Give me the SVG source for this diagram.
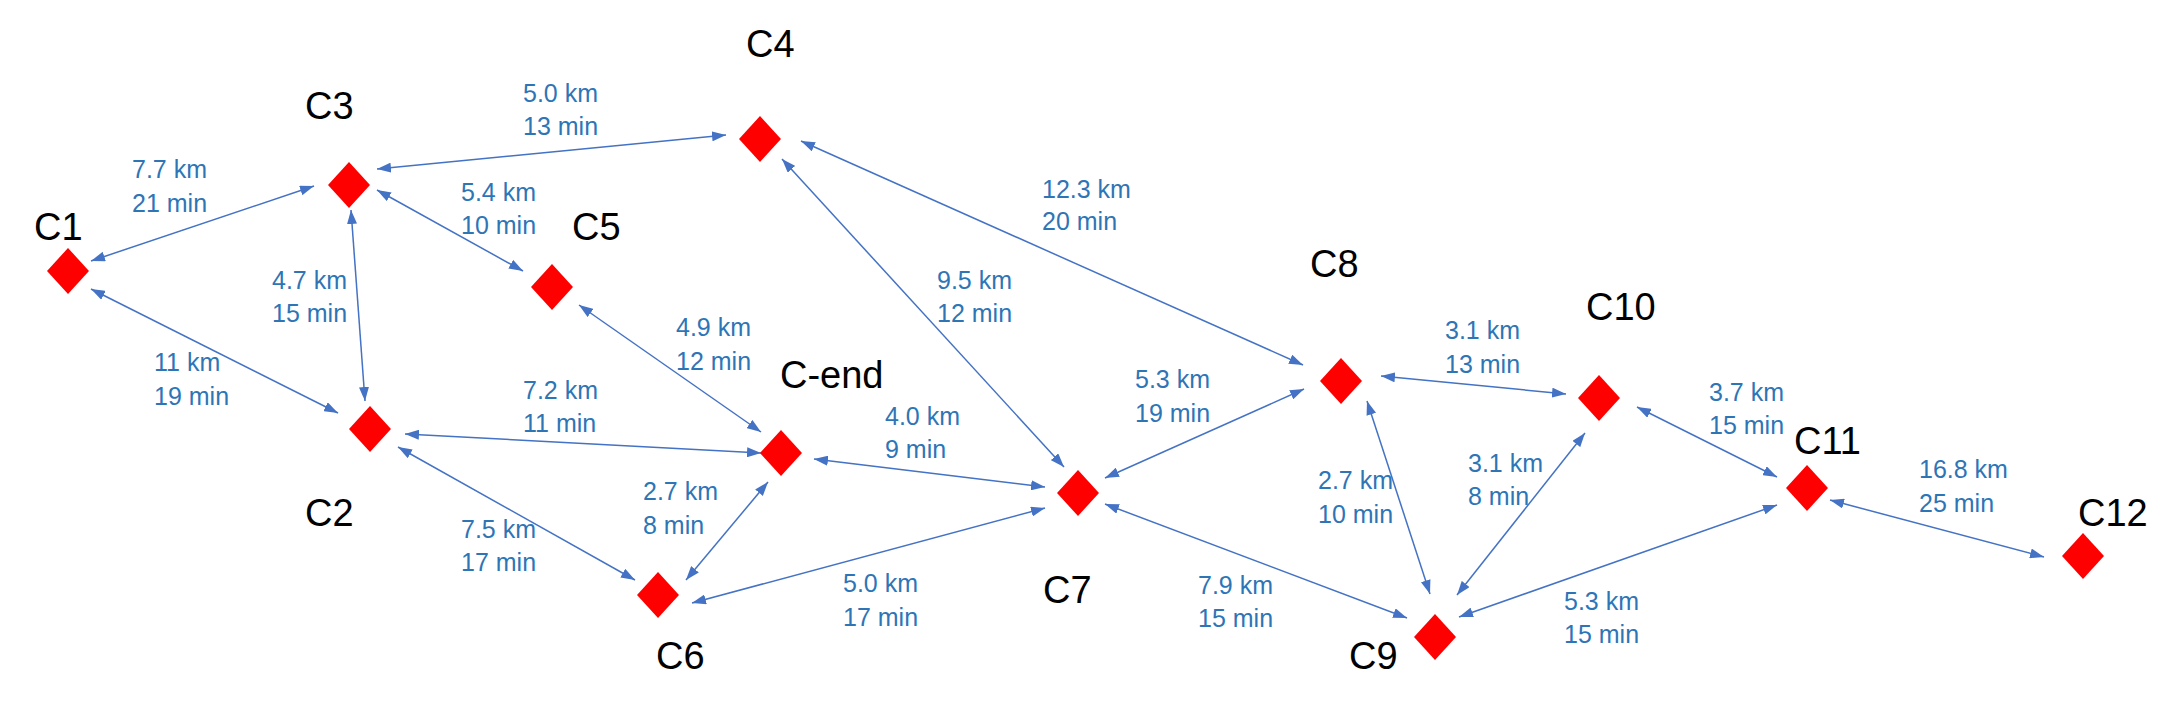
<svg xmlns="http://www.w3.org/2000/svg" width="2183" height="711" viewBox="0 0 2183 711">
<style>
.n{fill:#ff0000}
.t{font-family:"Liberation Sans",Arial,sans-serif;font-size:38px;fill:#000}
.e{font-family:"Liberation Sans",Arial,sans-serif;font-size:25px;fill:#2e75b6}
.c line{stroke:#4472c4;stroke-width:1.5;marker-start:url(#a);marker-end:url(#a)}
</style>
<defs>
<marker id="a" viewBox="0 0 14 10" refX="14" refY="5" markerWidth="14" markerHeight="10" markerUnits="userSpaceOnUse" orient="auto-start-reverse"><path d="M0,0L14,5L0,10z" fill="#4472c4"/></marker>
<path id="d" d="M0,-23L21,0L0,23L-21,0z"/>
</defs>
<rect width="2183" height="711" fill="#fff"/>
<g class="c" id="connectors">
<line x1="91" y1="261" x2="314" y2="186"/>
<line x1="377" y1="169" x2="726" y2="135"/>
<line x1="377" y1="190" x2="523" y2="271"/>
<line x1="351" y1="210" x2="365" y2="401"/>
<line x1="91" y1="289" x2="338" y2="413"/>
<line x1="782" y1="159" x2="1064" y2="467"/>
<line x1="801" y1="141" x2="1303" y2="365"/>
<line x1="579" y1="305" x2="761" y2="432"/>
<line x1="405" y1="434" x2="761" y2="453"/>
<line x1="398" y1="447" x2="635" y2="580"/>
<line x1="814" y1="459" x2="1045" y2="487"/>
<line x1="768" y1="482" x2="686" y2="580"/>
<line x1="692" y1="603" x2="1045" y2="508"/>
<line x1="1105" y1="478" x2="1304" y2="389"/>
<line x1="1105" y1="504" x2="1407" y2="618"/>
<line x1="1381" y1="376" x2="1566" y2="394"/>
<line x1="1367" y1="401" x2="1430" y2="594"/>
<line x1="1585" y1="433" x2="1457" y2="595"/>
<line x1="1637" y1="407" x2="1777" y2="477"/>
<line x1="1459" y1="617" x2="1777" y2="505"/>
<line x1="1830" y1="500" x2="2044" y2="557"/>
</g>
<g id="labels">
<text class="e" x="523" y="102">5.0 km</text><text class="e" x="523" y="135">13 min</text>
<text class="e" x="132" y="178">7.7 km</text><text class="e" x="132" y="212">21 min</text>
<text class="e" x="461" y="201">5.4 km</text><text class="e" x="461" y="234">10 min</text>
<text class="e" x="272" y="289">4.7 km</text><text class="e" x="272" y="322">15 min</text>
<text class="e" x="154" y="371">11 km</text><text class="e" x="154" y="405">19 min</text>
<text class="e" x="523" y="399">7.2 km</text><text class="e" x="523" y="432">11 min</text>
<text class="e" x="676" y="336">4.9 km</text><text class="e" x="676" y="370">12 min</text>
<text class="e" x="937" y="289">9.5 km</text><text class="e" x="937" y="322">12 min</text>
<text class="e" x="1042" y="198">12.3 km</text><text class="e" x="1042" y="230">20 min</text>
<text class="e" x="885" y="425">4.0 km</text><text class="e" x="885" y="458">9 min</text>
<text class="e" x="643" y="500">2.7 km</text><text class="e" x="643" y="534">8 min</text>
<text class="e" x="461" y="538">7.5 km</text><text class="e" x="461" y="571">17 min</text>
<text class="e" x="843" y="592">5.0 km</text><text class="e" x="843" y="626">17 min</text>
<text class="e" x="1135" y="388">5.3 km</text><text class="e" x="1135" y="422">19 min</text>
<text class="e" x="1445" y="339">3.1 km</text><text class="e" x="1445" y="373">13 min</text>
<text class="e" x="1709" y="401">3.7 km</text><text class="e" x="1709" y="434">15 min</text>
<text class="e" x="1468" y="472">3.1 km</text><text class="e" x="1468" y="505">8 min</text>
<text class="e" x="1318" y="489">2.7 km</text><text class="e" x="1318" y="523">10 min</text>
<text class="e" x="1919" y="478">16.8 km</text><text class="e" x="1919" y="512">25 min</text>
<text class="e" x="1198" y="594">7.9 km</text><text class="e" x="1198" y="627">15 min</text>
<text class="e" x="1564" y="610">5.3 km</text><text class="e" x="1564" y="643">15 min</text>
</g>
<g id="C1"><use href="#d" class="n" x="68" y="271"/><text class="t" x="34" y="240">C1</text></g>
<g id="C2"><use href="#d" class="n" x="370" y="429"/><text class="t" x="305" y="526">C2</text></g>
<g id="C3"><use href="#d" class="n" x="349" y="185"/><text class="t" x="305" y="119">C3</text></g>
<g id="C4"><use href="#d" class="n" x="760" y="139"/><text class="t" x="746" y="57">C4</text></g>
<g id="C5"><use href="#d" class="n" x="552" y="287"/><text class="t" x="572" y="240">C5</text></g>
<g id="C-end"><use href="#d" class="n" x="781" y="453"/><text class="t" x="780" y="388">C-end</text></g>
<g id="C6"><use href="#d" class="n" x="658" y="595"/><text class="t" x="656" y="669">C6</text></g>
<g id="C7"><use href="#d" class="n" x="1078" y="493"/><text class="t" x="1043" y="603">C7</text></g>
<g id="C8"><use href="#d" class="n" x="1341" y="381"/><text class="t" x="1310" y="277">C8</text></g>
<g id="C9"><use href="#d" class="n" x="1435" y="637"/><text class="t" x="1349" y="669">C9</text></g>
<g id="C10"><use href="#d" class="n" x="1599" y="398"/><text class="t" x="1586" y="320">C10</text></g>
<g id="C11"><use href="#d" class="n" x="1807" y="488"/><text class="t" x="1794" y="454">C11</text></g>
<g id="C12"><use href="#d" class="n" x="2083" y="556"/><text class="t" x="2078" y="526">C12</text></g>
</svg>
